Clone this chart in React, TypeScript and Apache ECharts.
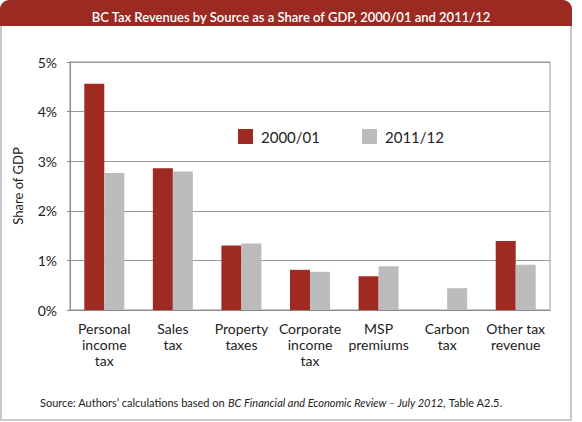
import { useEffect, useRef } from "react";
import * as echarts from "echarts";

const categories = [
  "Personal\nincome\ntax",
  "Sales\ntax",
  "Property\ntaxes",
  "Corporate\nincome\ntax",
  "MSP\npremiums",
  "Carbon\ntax",
  "Other tax\nrevenue",
];
const values2000 = [4.56, 2.86, 1.3, 0.81, 0.68, null, 1.39];
const values2011 = [2.76, 2.79, 1.34, 0.77, 0.88, 0.44, 0.91];
const yTicks = [0, 1, 2, 3, 4, 5];

const FONT = "Lato";
const RED = "#9e2a22";
const GRAY = "#bcbcbc";

export default function App() {
  const chartRef = useRef<HTMLDivElement>(null);

  useEffect(() => {
    document.body.style.margin = "0";
    if (!chartRef.current) return;
    const chart = echarts.init(chartRef.current, null, { renderer: "svg" });

    const option: echarts.EChartsOption = {
      animation: false,
      backgroundColor: "#fff",
      textStyle: { fontFamily: FONT },
      graphic: [
        {
          type: "rect",
          z: -10,
          shape: { x: 1, y: 1, width: 570, height: 419, r: [9, 9, 0, 0] },
          style: { fill: "#fff", stroke: "#c6c9cb", lineWidth: 2 },
        },
        {
          type: "rect",
          z: -9,
          shape: { x: 0, y: 0, width: 572, height: 26, r: [9, 9, 0, 0] },
          style: { fill: "#9b2a22" },
        },
        {
          type: "text",
          x: 40,
          y: 402,
          style: {
            text: "{n|Source: Authors’ calculations based on }{i|BC Financial and Economic Review – July 2012,}{n| Table A2.5.}",
            verticalAlign: "middle",
            rich: {
              n: { fontFamily: FONT, fontSize: 11, fill: "#222" },
              i: { fontFamily: FONT, fontSize: 11, fill: "#222", fontStyle: "italic" },
            },
          },
        },
      ],
      title: {
        text: "BC Tax Revenues by Source as a Share of GDP, 2000/01 and 2011/12",
        left: "center",
        top: 5,
        textStyle: {
          color: "#fff",
          fontFamily: FONT,
          fontSize: 13,
          fontWeight: 600,
        },
      },
      legend: {
        left: 233,
        top: 124,
        itemWidth: 15,
        itemHeight: 15,
        itemGap: 42,
        icon: "rect",
        textStyle: { fontFamily: FONT, fontSize: 15, color: "#222", padding: [0, 0, 0, 3] },
        data: ["2000/01", "2011/12"],
      },
      grid: {
        left: 70,
        right: 32,
        top: 62,
        bottom: 112,
        show: true,
        borderColor: "#999",
        borderWidth: 1,
      },
      xAxis: {
        type: "category",
        data: categories,
        axisLine: { lineStyle: { color: "#888", width: 1 } },
        axisTick: { length: 4, lineStyle: { color: "#888" } },
        axisLabel: {
          color: "#222",
          fontFamily: FONT,
          fontSize: 14,
          lineHeight: 16,
          margin: 10,
          interval: 0,
        },
      },
      yAxis: {
        type: "value",
        min: yTicks[0],
        max: yTicks[yTicks.length - 1],
        interval: 1,
        name: "Share of GDP",
        nameLocation: "middle",
        nameGap: 46,
        nameTextStyle: { color: "#222", fontFamily: FONT, fontSize: 13 },
        axisLine: { show: true, lineStyle: { color: "#888" } },
        axisTick: { show: true, length: 3, lineStyle: { color: "#888" } },
        axisLabel: {
          color: "#222",
          fontFamily: FONT,
          fontSize: 14,
          margin: 13,
          formatter: "{value}%",
        },
        splitLine: { lineStyle: { color: "#999", width: 1 } },
      },
      series: [
        {
          name: "2000/01",
          type: "bar",
          data: values2000,
          barWidth: 20,
          barGap: "0%",
          itemStyle: { color: RED },
        },
        {
          name: "2011/12",
          type: "bar",
          data: values2011,
          barWidth: 20,
          itemStyle: { color: GRAY },
        },
      ],
    };

    chart.setOption(option);
    return () => chart.dispose();
  }, []);

  return <div ref={chartRef} style={{ width: 582, height: 422 }} />;
}
